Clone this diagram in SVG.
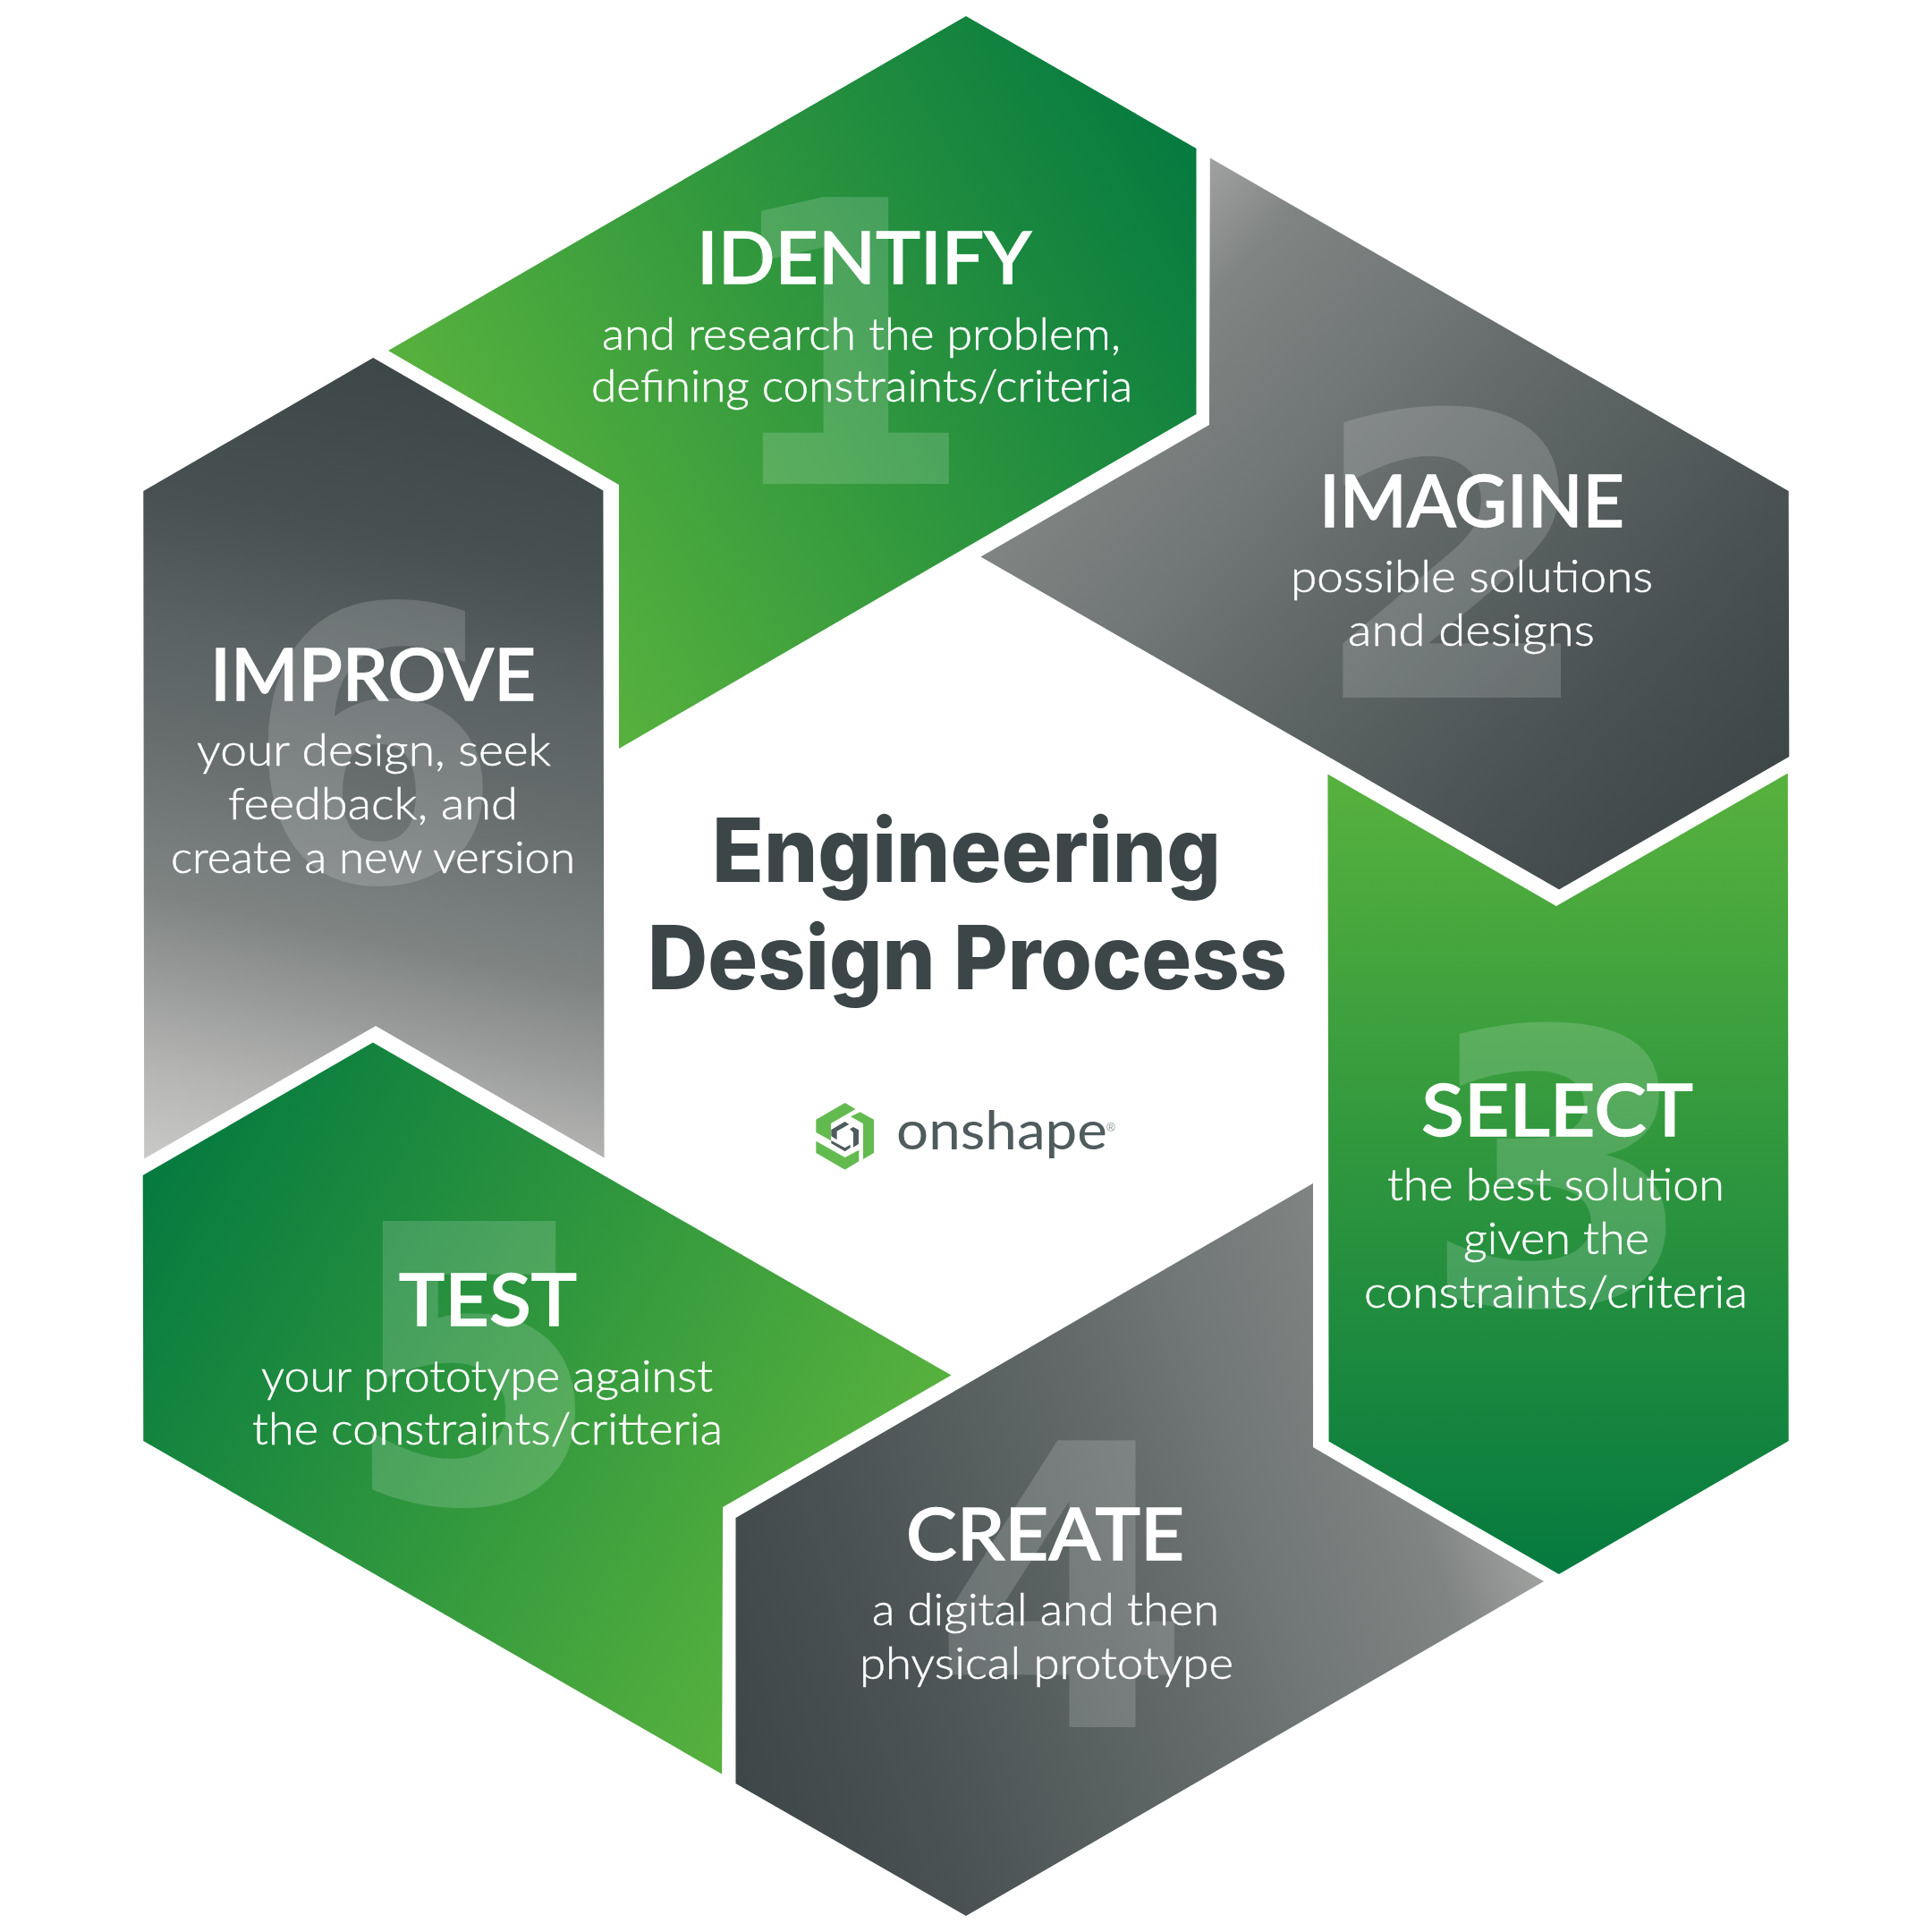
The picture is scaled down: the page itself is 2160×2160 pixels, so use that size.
<svg xmlns="http://www.w3.org/2000/svg" width="2160" height="2160" viewBox="0 0 2160 2160">
<style>
.h{font-family:"Lato","Liberation Sans",sans-serif;font-weight:500;font-size:82px;fill:#fff;stroke:#fff;stroke-width:1.4px}
.b{font-family:"Lato","Liberation Sans",sans-serif;font-weight:300;font-size:49px;fill:#fff;stroke:#fff;stroke-width:.5px}
.d{font-family:"DejaVu Sans",sans-serif;font-weight:700;font-size:440px;fill:#fff;fill-opacity:.16}
.t{font-family:"Inter","Liberation Sans",sans-serif;font-weight:800;font-size:99px;fill:#3c4648}
</style>
<defs>
<linearGradient id="green" gradientUnits="userSpaceOnUse" x1="-186" y1="107" x2="589" y2="-340">
<stop offset="0" stop-color="#57b13d"/><stop offset="1" stop-color="#057a3f"/>
</linearGradient>
<linearGradient id="gray-side" gradientUnits="userSpaceOnUse" x1="-381" y1="124" x2="501" y2="-163">
<stop offset="0" stop-color="#a0a2a0"/><stop offset=".115" stop-color="#808483"/><stop offset=".31" stop-color="#717676"/><stop offset=".414" stop-color="#676c6c"/><stop offset=".6" stop-color="#575f5f"/><stop offset=".775" stop-color="#4a5253"/><stop offset="1" stop-color="#3e4748"/>
</linearGradient>
<linearGradient id="gray-left" gradientUnits="userSpaceOnUse" x1="-381" y1="124" x2="501" y2="-163">
<stop offset="0" stop-color="#c9c9c7"/><stop offset=".115" stop-color="#b3b4b2"/><stop offset=".21" stop-color="#9a9c9b"/><stop offset=".316" stop-color="#7f8483"/><stop offset=".368" stop-color="#787d7d"/><stop offset=".5" stop-color="#676d6d"/><stop offset=".635" stop-color="#5a6263"/><stop offset=".788" stop-color="#485152"/><stop offset="1" stop-color="#3e4748"/>
</linearGradient>
<polygon id="seg" points="0,-1062 257.5,-914 257.5,-617 -388,-243 -388,-538 -646,-688"/>
</defs>
<rect width="2160" height="2160" fill="#fff"/>
<g id="step-identify">
<use href="#seg" fill="url(#green)" transform="translate(1080 1080)"/>
<text class="d" x="805" y="541" textLength="284" lengthAdjust="spacingAndGlyphs">1</text>
<text class="h" x="779" y="317" textLength="374" lengthAdjust="spacingAndGlyphs">IDENTIFY</text>
<text class="b" x="673" y="391" textLength="580" lengthAdjust="spacingAndGlyphs">and research the problem,</text>
<text class="b" x="661" y="449" textLength="605" lengthAdjust="spacingAndGlyphs">defining constraints/criteria</text>
</g>
<g id="step-imagine">
<use href="#seg" fill="url(#gray-side)" transform="translate(1080 1080) rotate(60)"/>
<text class="d" x="1465" y="780" textLength="320" lengthAdjust="spacingAndGlyphs">2</text>
<text class="h" x="1475" y="589" textLength="341" lengthAdjust="spacingAndGlyphs">IMAGINE</text>
<text class="b" x="1443" y="662" textLength="405" lengthAdjust="spacingAndGlyphs">possible solutions</text>
<text class="b" x="1507" y="722" textLength="276" lengthAdjust="spacingAndGlyphs">and designs</text>
</g>
<g id="step-select">
<use href="#seg" fill="url(#green)" transform="translate(1080 1080) rotate(120)"/>
<text class="d" style="font-size:425px" x="1588" y="1458" textLength="310" lengthAdjust="spacingAndGlyphs">3</text>
<text class="h" x="1589" y="1270" textLength="304" lengthAdjust="spacingAndGlyphs">SELECT</text>
<text class="b" x="1551" y="1342" textLength="377" lengthAdjust="spacingAndGlyphs">the best solution</text>
<text class="b" x="1636" y="1402" textLength="208" lengthAdjust="spacingAndGlyphs">given the</text>
<text class="b" x="1525" y="1462" textLength="429" lengthAdjust="spacingAndGlyphs">constraints/criteria</text>
</g>
<g id="step-create">
<use href="#seg" fill="url(#gray-side)" transform="translate(1080 1080) rotate(180)"/>
<text class="d" x="1042" y="1931" textLength="290" lengthAdjust="spacingAndGlyphs">4</text>
<text class="h" x="1013" y="1744" textLength="311" lengthAdjust="spacingAndGlyphs">CREATE</text>
<text class="b" x="975" y="1817" textLength="388" lengthAdjust="spacingAndGlyphs">a digital and then</text>
<text class="b" x="961" y="1877" textLength="418" lengthAdjust="spacingAndGlyphs">physical prototype</text>
</g>
<g id="step-test">
<use href="#seg" fill="url(#green)" transform="translate(1080 1080) rotate(240)"/>
<text class="d" style="font-size:432px" x="384" y="1680" textLength="288" lengthAdjust="spacingAndGlyphs">5</text>
<text class="h" x="446" y="1482" textLength="199" lengthAdjust="spacingAndGlyphs">TEST</text>
<text class="b" x="292" y="1556" textLength="505" lengthAdjust="spacingAndGlyphs">your prototype against</text>
<text class="b" x="282" y="1615" textLength="526" lengthAdjust="spacingAndGlyphs">the constraints/critteria</text>
</g>
<g id="step-improve">
<use href="#seg" fill="url(#gray-left)" transform="translate(1080 1080) rotate(300)"/>
<text class="d" style="font-size:425px" x="274" y="985" textLength="288" lengthAdjust="spacingAndGlyphs">6</text>
<text class="h" x="235" y="783" textLength="364" lengthAdjust="spacingAndGlyphs">IMPROVE</text>
<text class="b" x="220" y="856" textLength="396" lengthAdjust="spacingAndGlyphs">your design, seek</text>
<text class="b" x="255" y="916" textLength="324" lengthAdjust="spacingAndGlyphs">feedback, and</text>
<text class="b" x="191" y="976" textLength="452" lengthAdjust="spacingAndGlyphs">create a new version</text>
</g>
<g id="title">
<text class="t" x="796" y="986" textLength="569" lengthAdjust="spacingAndGlyphs">Engineering</text>
<text class="t" x="724" y="1106" textLength="715" lengthAdjust="spacingAndGlyphs">Design Process</text>
</g>
<g id="logo">
<g transform="translate(850 1180) scale(.3333)">
<g fill="#63bb50">
<polygon points="284,159 320,180 237,228 237,286 187,258 187,215"/>
<polygon points="335,190 381,215 381,327 345,348 345,229 303,205"/>
<polygon points="187,287 284,342 331,317 331,355 284,383 187,327"/>
</g>
<g fill="#4f5b5d">
<polygon points="284,222 298,231 257,254 257,283 238,271 238,249"/>
<polygon points="312,240 330,250 330,297 312,308 312,258 300,247"/>
<polygon points="238,285 284,310 302,299 302,310 284,322 238,295"/>
</g>
</g>
<text x="1002" y="1285" font-family="Lato,'Liberation Sans',sans-serif" font-weight="400" font-size="60" fill="#4f5b5d" textLength="236" lengthAdjust="spacingAndGlyphs">onshape</text>
<text x="1237" y="1265" font-family="'Liberation Sans',sans-serif" font-size="13" fill="#8b9293">®</text>
</g>
</svg>
